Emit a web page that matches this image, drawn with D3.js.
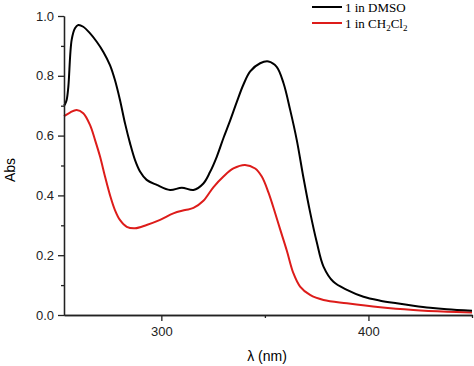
<!DOCTYPE html>
<html>
<head>
<meta charset="utf-8">
<script src="https://cdn.jsdelivr.net/npm/d3@7"></script>
<style>
  body { margin: 0; background: #fff; }
  .axis text { font-family: "Liberation Sans", Arial, sans-serif; font-size: 13px; fill: #222; }
  .axis path, .axis line { stroke: #222; stroke-width: 1.3; }
</style>
</head>
<body>
<div id="canvas"></div>
<script>
// ---- data ----
const dmsoWl = [253, 253.5, 254.3, 255.1, 256.7, 258.3, 259.9, 262.3, 265.6, 268.8, 272, 275.2, 277.6, 280,
  282.5, 284.9, 287.3, 289.7, 292.9, 297.8, 304.2, 309.9, 315.5, 320.3, 323.5, 326.8, 330, 333.2, 336.4,
  339.6, 342.9, 347.7, 351.7, 355.7, 359, 362.2, 365.4, 368.6, 371.8, 375, 378.3, 383.1, 389.6, 397.6,
  405.7, 413.7, 421.7, 429.8, 437.9, 450];
const dmsoAbs = [0.70, 0.705, 0.72, 0.764, 0.92, 0.959, 0.97, 0.964, 0.942, 0.914, 0.88, 0.836, 0.786, 0.72,
  0.64, 0.574, 0.518, 0.48, 0.452, 0.435, 0.418, 0.426, 0.418, 0.44, 0.478, 0.53, 0.592, 0.65, 0.712,
  0.77, 0.815, 0.842, 0.848, 0.83, 0.775, 0.686, 0.585, 0.46, 0.345, 0.245, 0.162, 0.111, 0.084, 0.061,
  0.048, 0.039, 0.031, 0.024, 0.019, 0.014];

const dcmWl = [253, 255.9, 259.1, 262.3, 265.6, 268, 270.4, 272.8, 275.2, 277.6, 280, 283.3, 287.3, 292.9,
  299.4, 305.8, 311.5, 315.5, 320.3, 325.1, 330, 334.8, 340.4, 345.3, 348.5, 351.7, 354.9, 357.3, 360.6,
  363.8, 367, 371.8, 378.3, 389.6, 405.7, 421.7, 437.9, 450];
const dcmAbs = [0.665, 0.677, 0.686, 0.675, 0.635, 0.585, 0.53, 0.463, 0.401, 0.351, 0.318, 0.295, 0.29, 0.301,
  0.318, 0.34, 0.351, 0.358, 0.382, 0.427, 0.463, 0.49, 0.502, 0.49, 0.463, 0.41, 0.342, 0.288, 0.215,
  0.139, 0.095, 0.067, 0.05, 0.039, 0.026, 0.017, 0.011, 0.008];

const xMajor = [300, 400];
const xMinor = [350, 450];
const yMajor = [0, 0.2, 0.4, 0.6, 0.8, 1.0];
const yMinor = [0.1, 0.3, 0.5, 0.7, 0.9];

const width = 474;
const height = 366;
const margin = {top: 16, left: 64, bottom: 51, right: 2};
const iwidth = width - margin.left - margin.right;
const iheight = height - margin.top - margin.bottom;

const svg = d3.select("#canvas").append("svg")
  .attr("width", width)
  .attr("height", height);

const g = svg.append("g").attr("transform", `translate(${margin.left}, ${margin.top})`);

const x = d3.scaleLinear().domain([253, 450]).range([0, iwidth]);
const y = d3.scaleLinear().domain([0, 1]).range([iheight, 0]);

const line = d3.line()
  .x(d => x(d[0]))
  .y(d => y(d[1]))
  .curve(d3.curveCatmullRom.alpha(0.5));

g.append("path")
  .datum(dcmWl.map((w, i) => [w, dcmAbs[i]]))
  .attr("fill", "none")
  .attr("stroke", "#dd1c1a")
  .attr("stroke-width", 2)
  .attr("d", line);

g.append("path")
  .datum(dmsoWl.map((w, i) => [w, dmsoAbs[i]]))
  .attr("fill", "none")
  .attr("stroke", "#000")
  .attr("stroke-width", 2)
  .attr("d", line);

// axes: majors with labels, minors shorter
g.append("g")
  .attr("class", "axis")
  .attr("transform", `translate(0, ${iheight})`)
  .call(d3.axisBottom(x).tickValues(xMinor).tickSize(3).tickSizeOuter(0).tickFormat(""));
g.append("g")
  .attr("class", "axis")
  .attr("transform", `translate(0, ${iheight})`)
  .call(d3.axisBottom(x).tickValues(xMajor).tickSize(6).tickSizeOuter(0).tickPadding(6).tickFormat(d3.format("d")));

g.append("g")
  .attr("class", "axis")
  .call(d3.axisLeft(y).tickValues(yMinor).tickSize(3).tickSizeOuter(0).tickFormat(""));
g.append("g")
  .attr("class", "axis")
  .call(d3.axisLeft(y).tickValues(yMajor).tickSize(6).tickSizeOuter(0).tickPadding(4).tickFormat(d3.format(".1f")));

// axis titles
svg.append("text")
  .attr("text-anchor", "middle")
  .style("font-family", "Liberation Sans, Arial, sans-serif")
  .style("font-size", "14px")
  .attr("x", 267)
  .attr("y", 361)
  .text("λ (nm)");

svg.append("text")
  .attr("text-anchor", "middle")
  .style("font-family", "Liberation Sans, Arial, sans-serif")
  .style("font-size", "14px")
  .attr("transform", "translate(15, 170) rotate(-90)")
  .text("Abs");

// legend
const legend = svg.append("g")
  .style("font-family", "Liberation Serif, Times New Roman, serif")
  .style("font-size", "13px");

legend.append("line").attr("x1", 312).attr("x2", 342).attr("y1", 7).attr("y2", 7)
  .attr("stroke", "#000").attr("stroke-width", 2);
legend.append("text").attr("x", 345).attr("y", 12).text("1 in DMSO");

legend.append("line").attr("x1", 312).attr("x2", 342).attr("y1", 23).attr("y2", 23)
  .attr("stroke", "#dd1c1a").attr("stroke-width", 2);
const t2 = legend.append("text").attr("x", 345).attr("y", 28);
t2.append("tspan").text("1 in CH");
t2.append("tspan").attr("dy", 3).style("font-size", "9px").text("2");
t2.append("tspan").attr("dy", -3).text("Cl");
t2.append("tspan").attr("dy", 3).style("font-size", "9px").text("2");
</script>
</body>
</html>
